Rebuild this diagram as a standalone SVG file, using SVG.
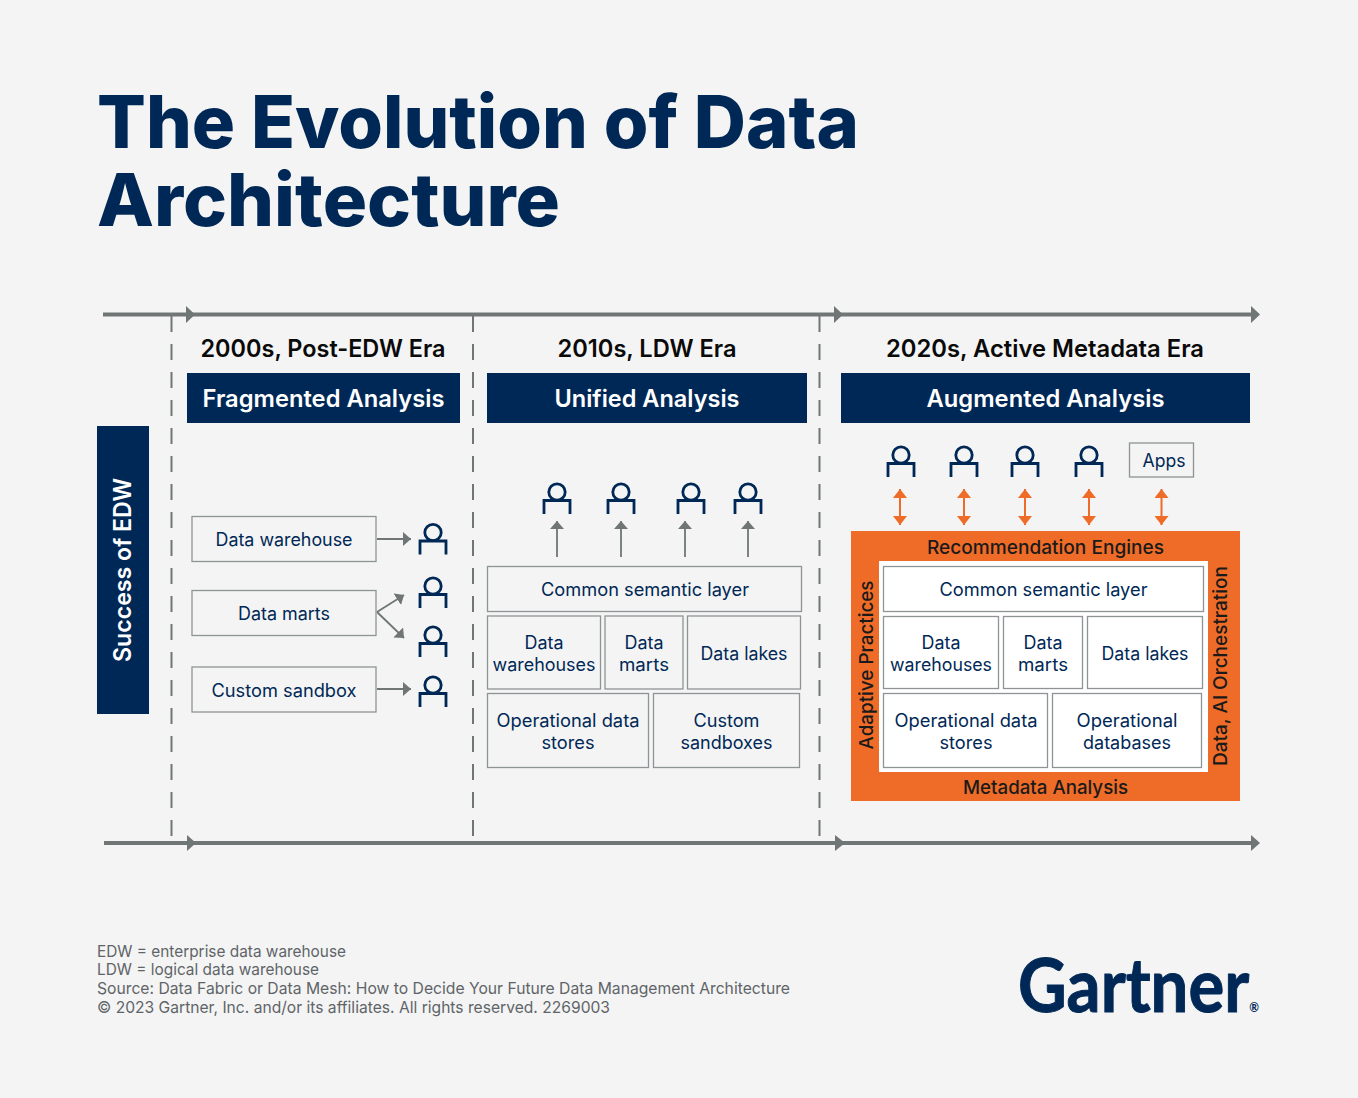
<svg xmlns="http://www.w3.org/2000/svg" width="1358" height="1098" viewBox="0 0 1358 1098">
<defs>
<style>
text{font-family:"Inter","Liberation Sans",sans-serif;text-anchor:middle}
.t{font-size:18px;fill:#002856;font-weight:400}
.h{font-size:24px;fill:#0a0a0a;font-weight:600}
.b{font-size:24px;fill:#fff;font-weight:600}
.o{font-size:19px;fill:#1a1a1a;font-weight:500}
.f{font-size:16.5px;fill:#5f6468;text-anchor:start}
.box{fill:none;stroke:#8e9496;stroke-width:1.3}
.wbox{fill:#fff;stroke:#8e9496;stroke-width:1.3}
.tl{stroke:#6f7675;stroke-width:4;fill:none}
.dash{stroke:#6f7675;stroke-width:2;fill:none;stroke-dasharray:16 12}
.ga{stroke:#6f7675;stroke-width:1.8;fill:none}
.oa{stroke:#ee6c27;stroke-width:2;fill:none}
.p{fill:none;stroke:#002856;stroke-width:2.8}
</style>
<marker id="ag" markerUnits="userSpaceOnUse" markerWidth="10" markerHeight="14" refX="8" refY="7" orient="auto"><path d="M0,0 L8,7 L0,14Z" fill="#6f7675"/></marker>
<marker id="ao" markerUnits="userSpaceOnUse" markerWidth="10" markerHeight="14" refX="9" refY="7" orient="auto-start-reverse"><path d="M0,0 L9,7 L0,14Z" fill="#ee6c27"/></marker>
<g id="person"><circle cx="0" cy="0" r="8.2" class="p"/><path d="M-13,22 V8.500 H13 V22" class="p"/></g>
</defs>
<rect width="1358" height="1098" fill="#f4f4f4"/>
<g id="title">
<text x="97" y="148" style="text-anchor:start;font-size:73px;font-weight:800;fill:#002856" textLength="762" lengthAdjust="spacingAndGlyphs">The Evolution of Data</text>
<text x="97" y="226" style="text-anchor:start;font-size:73px;font-weight:800;fill:#002856" textLength="463" lengthAdjust="spacingAndGlyphs">Architecture</text>
</g>
<g id="connectors">
<path class="tl" d="M103,314.500H1257"/>
<path class="tl" d="M104,843H1257"/>
<path d="M186,306L195,314.500L186,323Z M834,306L843,314.500L834,323Z M1251,306L1260,314.500L1251,323Z M187,835L196,843L187,851Z M835,835L845,843L835,851Z M1251,835L1260,843L1251,851Z" fill="#6f7675"/>
<path class="dash" d="M171.500,316V843"/>
<path class="dash" d="M473,316V843"/>
<path class="dash" d="M819.500,316V843"/>
<path class="ga" d="M377,539H411" marker-end="url(#ag)"/>
<path class="ga" d="M377,612L404,595" marker-end="url(#ag)"/>
<path class="ga" d="M377,612L404,638" marker-end="url(#ag)"/>
<path class="ga" d="M377,689H411" marker-end="url(#ag)"/>
<path class="ga" d="M557,557V521" marker-end="url(#ag)"/>
<path class="ga" d="M621,557V521" marker-end="url(#ag)"/>
<path class="ga" d="M685,557V521" marker-end="url(#ag)"/>
<path class="ga" d="M748,557V521" marker-end="url(#ag)"/>
<path class="oa" d="M900,489V525" marker-start="url(#ao)" marker-end="url(#ao)"/>
<path class="oa" d="M964,489V525" marker-start="url(#ao)" marker-end="url(#ao)"/>
<path class="oa" d="M1025,489V525" marker-start="url(#ao)" marker-end="url(#ao)"/>
<path class="oa" d="M1089,489V525" marker-start="url(#ao)" marker-end="url(#ao)"/>
<path class="oa" d="M1161.500,489V525" marker-start="url(#ao)" marker-end="url(#ao)"/>
</g>
<g id="headers">
<text class="h" x="323" y="357" textLength="245" lengthAdjust="spacingAndGlyphs">2000s, Post-EDW Era</text>
<text class="h" x="647" y="357" textLength="179" lengthAdjust="spacingAndGlyphs">2010s, LDW Era</text>
<text class="h" x="1045" y="357" textLength="318" lengthAdjust="spacingAndGlyphs">2020s, Active Metadata Era</text>
</g>
<g id="edw"><rect x="97" y="426" width="52" height="288" fill="#002856"/>
<text class="b" transform="translate(131,570) rotate(-90)" textLength="184" lengthAdjust="spacingAndGlyphs">Success of EDW</text></g>
<g id="fragmented"><rect x="187" y="373" width="273" height="50" fill="#002856"/><text class="b" x="323.500" y="407" textLength="242" lengthAdjust="spacingAndGlyphs">Fragmented Analysis</text></g>
<g id="unified"><rect x="487" y="373" width="320" height="50" fill="#002856"/><text class="b" x="647" y="407" textLength="185" lengthAdjust="spacingAndGlyphs">Unified Analysis</text></g>
<g id="augmented"><rect x="841" y="373" width="409" height="50" fill="#002856"/><text class="b" x="1045.500" y="407" textLength="238" lengthAdjust="spacingAndGlyphs">Augmented Analysis</text></g>

<g id="n-dw"><rect class="box" x="192" y="516.500" width="184" height="45"/><text class="t" x="284" y="546" textLength="137" lengthAdjust="spacingAndGlyphs">Data warehouse</text></g>
<g id="n-dm"><rect class="box" x="192" y="590.500" width="184" height="45"/><text class="t" x="284" y="620" textLength="92" lengthAdjust="spacingAndGlyphs">Data marts</text></g>
<g id="n-cs"><rect class="box" x="192" y="667" width="184" height="45"/><text class="t" x="284" y="696.500" textLength="145" lengthAdjust="spacingAndGlyphs">Custom sandbox</text></g>
<g id="people-1"><use href="#person" x="433" y="532.500"/><use href="#person" x="433" y="586"/><use href="#person" x="433" y="635"/><use href="#person" x="433" y="685"/></g>

<g id="people-2"><use href="#person" x="557" y="492"/><use href="#person" x="621" y="492"/><use href="#person" x="691" y="492"/><use href="#person" x="748" y="492"/></g>
<g id="u-csl"><rect class="box" x="487.500" y="566.500" width="314" height="45"/><text class="t" x="645" y="596" textLength="208" lengthAdjust="spacingAndGlyphs">Common semantic layer</text></g>
<g id="u-dw"><rect class="box" x="487.500" y="616" width="113" height="73"/><text class="t" x="544" y="649" textLength="39" lengthAdjust="spacingAndGlyphs">Data</text><text class="t" x="544" y="671" textLength="103" lengthAdjust="spacingAndGlyphs">warehouses</text></g>
<g id="u-dm"><rect class="box" x="605" y="616" width="78" height="73"/><text class="t" x="644" y="649" textLength="39" lengthAdjust="spacingAndGlyphs">Data</text><text class="t" x="644" y="671" textLength="50" lengthAdjust="spacingAndGlyphs">marts</text></g>
<g id="u-dl"><rect class="box" x="687.500" y="616" width="113" height="73"/><text class="t" x="744" y="660" textLength="87" lengthAdjust="spacingAndGlyphs">Data lakes</text></g>
<g id="u-ods"><rect class="box" x="487.500" y="693.500" width="161" height="74"/><text class="t" x="568" y="727" textLength="143" lengthAdjust="spacingAndGlyphs">Operational data</text><text class="t" x="568" y="749" textLength="53" lengthAdjust="spacingAndGlyphs">stores</text></g>
<g id="u-cs"><rect class="box" x="653.500" y="693.500" width="146" height="74"/><text class="t" x="726.500" y="727" textLength="66" lengthAdjust="spacingAndGlyphs">Custom</text><text class="t" x="726.500" y="749" textLength="92" lengthAdjust="spacingAndGlyphs">sandboxes</text></g>

<g id="people-3"><use href="#person" x="901" y="455"/><use href="#person" x="964" y="455"/><use href="#person" x="1025" y="455"/><use href="#person" x="1089" y="455"/></g>
<g id="apps"><rect class="box" x="1129.500" y="443" width="64" height="34"/><text class="t" x="1164" y="467" textLength="43" lengthAdjust="spacingAndGlyphs">Apps</text></g>
<g id="metadata">
<rect x="851" y="531" width="389" height="270" fill="#ee6c27"/>
<rect x="879" y="561" width="329" height="211" fill="#fff"/>
<text class="o" x="1045.500" y="553.500" textLength="237" lengthAdjust="spacingAndGlyphs">Recommendation Engines</text>
<text class="o" x="1045.500" y="793.500" textLength="165" lengthAdjust="spacingAndGlyphs">Metadata Analysis</text>
<text class="o" transform="translate(873,665) rotate(-90)" textLength="169" lengthAdjust="spacingAndGlyphs">Adaptive Practices</text>
<text class="o" transform="translate(1227,666) rotate(-90)" textLength="200" lengthAdjust="spacingAndGlyphs">Data, AI Orchestration</text>
</g>
<g id="a-csl"><rect class="wbox" x="883.500" y="566.500" width="320" height="45"/><text class="t" x="1043.500" y="596" textLength="208" lengthAdjust="spacingAndGlyphs">Common semantic layer</text></g>
<g id="a-dw"><rect class="wbox" x="883.500" y="616.500" width="115" height="72"/><text class="t" x="941" y="649" textLength="39" lengthAdjust="spacingAndGlyphs">Data</text><text class="t" x="941" y="671" textLength="102" lengthAdjust="spacingAndGlyphs">warehouses</text></g>
<g id="a-dm"><rect class="wbox" x="1003.500" y="616.500" width="79" height="72"/><text class="t" x="1043" y="649" textLength="39" lengthAdjust="spacingAndGlyphs">Data</text><text class="t" x="1043" y="671" textLength="50" lengthAdjust="spacingAndGlyphs">marts</text></g>
<g id="a-dl"><rect class="wbox" x="1087.500" y="616.500" width="115" height="72"/><text class="t" x="1145" y="660" textLength="87" lengthAdjust="spacingAndGlyphs">Data lakes</text></g>
<g id="a-ods"><rect class="wbox" x="883.500" y="693.500" width="164" height="74"/><text class="t" x="966" y="727" textLength="143" lengthAdjust="spacingAndGlyphs">Operational data</text><text class="t" x="966" y="749" textLength="53" lengthAdjust="spacingAndGlyphs">stores</text></g>
<g id="a-odb"><rect class="wbox" x="1052.500" y="693.500" width="149" height="74"/><text class="t" x="1127" y="727" textLength="101" lengthAdjust="spacingAndGlyphs">Operational</text><text class="t" x="1127" y="749" textLength="88" lengthAdjust="spacingAndGlyphs">databases</text></g>

<g id="footer">
<text class="f" x="97" y="957" textLength="249" lengthAdjust="spacingAndGlyphs">EDW = enterprise data warehouse</text>
<text class="f" x="97" y="975" textLength="222" lengthAdjust="spacingAndGlyphs">LDW = logical data warehouse</text>
<text class="f" x="97" y="994" textLength="693" lengthAdjust="spacingAndGlyphs">Source: Data Fabric or Data Mesh: How to Decide Your Future Data Management Architecture</text>
<text class="f" x="97" y="1013" textLength="513" lengthAdjust="spacingAndGlyphs">© 2023 Gartner, Inc. and/or its affiliates. All rights reserved. 2269003</text>
</g>
<g id="logo">
<text x="1018" y="1012" style="font-family:Lato,'Liberation Sans',sans-serif;text-anchor:start;font-size:74px;font-weight:700;fill:#002856;stroke:#002856;stroke-width:1" textLength="241" lengthAdjust="spacingAndGlyphs">Gartner<tspan style="font-size:13px;stroke-width:0">®</tspan></text>
</g>
</svg>
